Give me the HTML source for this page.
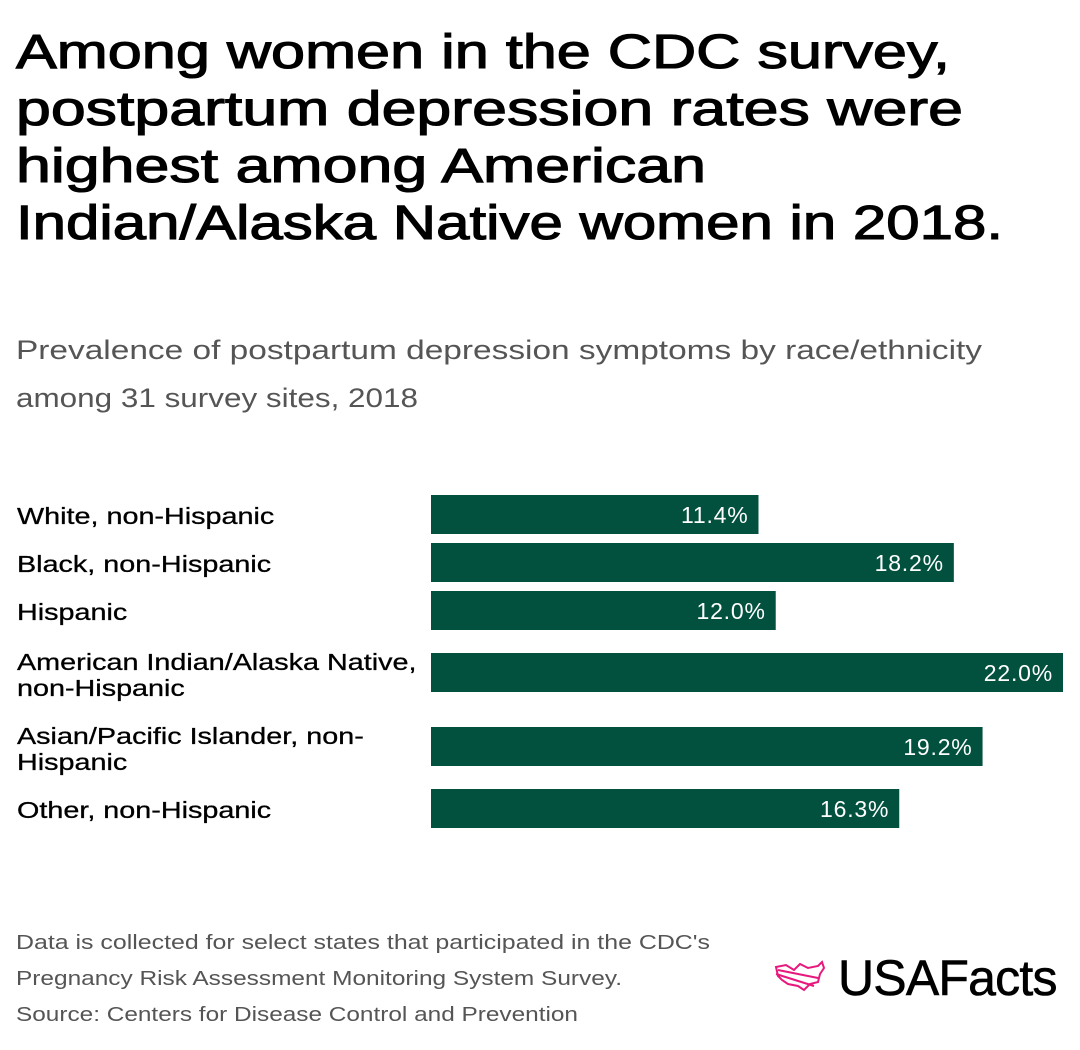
<!DOCTYPE html>
<html><head><meta charset="utf-8"><style>
body{margin:0;width:1080px;height:1050px;background:#fff;font-family:"Liberation Sans",sans-serif;position:relative;overflow:hidden}
.fit{display:block;white-space:nowrap;transform-origin:0 0;width:max-content}
.t{position:absolute;left:16px;top:24px;font-size:48px;line-height:57px;color:#000;margin:0;font-weight:normal;-webkit-text-stroke:1.1px #000}
.s{position:absolute;left:16px;top:326px;font-size:27px;line-height:48px;color:#555}
.lab{position:absolute;left:17px;font-size:23px;line-height:26px;color:#000;-webkit-text-stroke:0.3px #000}
.foot{position:absolute;left:16px;top:925px;font-size:20px;line-height:36px;color:#555}
</style></head><body>
<h1 class="t"><span class="fit" data-w="934">Among women in the CDC survey,</span><span class="fit" data-w="947">postpartum depression rates were</span><span class="fit" data-w="690">highest among American</span><span class="fit" data-w="987">Indian/Alaska Native women in 2018.</span></h1>
<div class="s"><span class="fit" data-w="966">Prevalence of postpartum depression symptoms by race/ethnicity</span><span class="fit" data-w="402">among 31 survey sites, 2018</span></div>
<div id="labels"></div>
<svg id="chart" width="1080" height="1050" style="position:absolute;left:0;top:0"></svg>
<div class="foot"><span class="fit" data-w="694">Data is collected for select states that participated in the CDC's</span><span class="fit" data-w="606">Pregnancy Risk Assessment Monitoring System Survey.</span><span class="fit" data-w="562">Source: Centers for Disease Control and Prevention</span></div>
<div style="position:absolute;left:774px;top:948px;">
<svg width="62" height="50" style="position:absolute;left:0;top:12px"><path d="M2 7 L12 5 L20 10 L26 4 L34 8 L44 6 L48 2 L50 8 L46 14 L44 22 L36 24 L30 30 L24 26 L14 24 L8 20 L4 16 Z M4 10 L44 18 M2 14 L40 26" fill="none" stroke="#e8197d" stroke-width="2"/></svg>
<span style="position:absolute;left:64px;top:0;font-size:50px;letter-spacing:-0.8px;color:#000;line-height:60px;-webkit-text-stroke:0.6px #000">USAFacts</span></div>
<script>
const categories=["White, non-Hispanic","Black, non-Hispanic","Hispanic","American Indian/Alaska Native,|non-Hispanic","Asian/Pacific Islander, non-|Hispanic","Other, non-Hispanic"];
const values=[11.4,18.2,12.0,22.0,19.2,16.3];
const valueLabels=["11.4%","18.2%","12.0%","22.0%","19.2%","16.3%"];
const rowTops=[495,543,591,653,727,789];
const x0=431,xScale=v=>v*632/22,bh=39;
const svg=document.getElementById('chart'),ns="http://www.w3.org/2000/svg",L=document.getElementById('labels');
values.forEach((v,i)=>{
 const y=rowTops[i],w=xScale(v);
 const r=document.createElementNS(ns,'rect');
 r.setAttribute('x',x0);r.setAttribute('y',y);r.setAttribute('width',w);r.setAttribute('height',bh);r.setAttribute('fill','#02513f');
 
 
 svg.appendChild(r);
 const t=document.createElementNS(ns,'text');
 t.setAttribute('x',x0+w-10);t.setAttribute('y',y+28);t.setAttribute('text-anchor','end');t.setAttribute('fill','#fff');t.setAttribute('font-size','23');t.setAttribute('letter-spacing','0.8');t.setAttribute('font-family','Liberation Sans, sans-serif');
 t.textContent=valueLabels[i];
 
 
 svg.appendChild(t);
 const d=document.createElement('div');d.className='lab';
 const lines=categories[i].split('|');
 d.style.top=(lines.length>1?y-4:y+8)+'px';
 lines.forEach(s=>{const sp=document.createElement('span');sp.className='fit';sp.style.transform='scaleX(1.25)';sp.textContent=s;d.appendChild(sp);});
 
 
 L.appendChild(d);
});
document.querySelectorAll('.fit[data-w]').forEach(e=>{const w=e.getBoundingClientRect().width;e.style.transform='scaleX('+(+e.dataset.w/w)+')';});
</script>
</body></html>
